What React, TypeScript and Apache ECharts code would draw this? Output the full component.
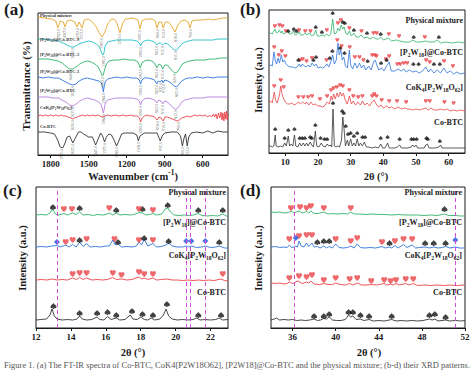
import React, { useEffect, useRef } from 'react';
import * as echarts from 'echarts';

const SERIF = '"Liberation Serif", "Times New Roman", serif';

// ---------------- (a) FT-IR ----------------
const IR_TICKS = [1800, 1500, 1200, 900, 600];
const IR_MIX = [[1900,3],[1850,2],[1790,1],[1760,-1],[1742,-8],[1725,-1],[1700,-2],[1687,-7],[1670,-1],[1640,0],[1610,-2],[1592,-7],[1575,-2],[1553,-8],[1535,0],[1500,1],[1470,-2],[1440,-7],[1415,-13],[1395,-17],[1375,-13],[1350,-4],[1320,1],[1300,1],[1280,-2],[1253,-13],[1235,-4],[1210,1],[1150,2],[1110,0],[1095,-9],[1080,-1],[1050,1],[1000,1],[975,-1],[960,-8],[945,-2],[925,-2],[912,-8],[895,-2],[870,-2],[845,-6],[818,-12],[795,-5],[770,-1],[740,0],[715,-2],[700,-8],[685,-1],[650,0],[600,0],[550,1],[520,0],[480,1],[440,2],[400,2]];
const IR_P9 = [[1900,1],[1860,1],[1820,0],[1780,0],[1740,-1],[1700,-3],[1670,-5],[1640,-7],[1615,-7],[1590,-5],[1560,-3],[1530,-2],[1500,-1],[1470,-2],[1440,-4],[1420,-6],[1405,-10],[1395,-14],[1385,-15],[1378,-12],[1370,-6],[1350,-2],[1320,-1],[1280,0],[1240,0],[1200,0],[1160,0],[1120,-1],[1100,-3],[1090,-6],[1080,-3],[1060,-1],[1030,0],[1000,-1],[980,-2],[962,-5],[948,-3],[932,-3],[915,-5],[898,-3],[875,-4],[850,-7],[825,-10],[805,-10],[785,-7],[765,-4],[740,-2],[710,-1],[680,0],[640,0],[600,0],[560,0],[520,0],[480,1],[440,1],[400,1]];
const IR_P5 = [[1900,1],[1860,1],[1820,1],[1780,0],[1740,-1],[1710,-3],[1680,-6],[1650,-9],[1625,-9],[1600,-7],[1570,-4],[1540,-2],[1510,-1],[1480,-2],[1450,-4],[1425,-7],[1405,-12],[1393,-16],[1385,-15],[1375,-10],[1360,-4],[1340,-1],[1300,0],[1260,0],[1220,1],[1180,0],[1140,0],[1110,-2],[1092,-8],[1080,-3],[1060,-1],[1030,0],[1000,-1],[980,-3],[962,-8],[945,-4],[930,-5],[915,-9],[900,-5],[880,-5],[860,-8],[840,-11],[820,-13],[800,-12],[780,-8],[760,-4],[730,-2],[700,-1],[660,0],[620,0],[580,0],[540,1],[500,1],[460,2],[420,2],[400,2]];
const IR_P1 = [[1900,1],[1860,0],[1820,1],[1780,0],[1740,0],[1710,-2],[1680,-4],[1650,-6],[1625,-7],[1600,-6],[1575,-3],[1545,-1],[1510,0],[1480,-1],[1450,-2],[1420,-3],[1400,-5],[1390,-9],[1384,-14],[1378,-9],[1370,-4],[1350,-1],[1320,0],[1280,1],[1240,0],[1200,1],[1160,0],[1120,0],[1100,-2],[1090,-6],[1080,-2],[1060,0],[1030,0],[1000,-1],[980,-2],[962,-6],[950,-3],[935,-4],[922,-2],[912,-5],[898,-2],[875,-3],[850,-5],[825,-8],[805,-9],[785,-6],[765,-3],[740,-1],[710,0],[680,0],[640,1],[600,0],[560,1],[520,0],[480,1],[440,1],[400,1]];
const IR_P0 = [[1900,1],[1860,1],[1820,1],[1780,0],[1740,0],[1710,-2],[1680,-4],[1650,-7],[1625,-8],[1600,-6],[1570,-3],[1540,-1],[1510,0],[1480,-1],[1450,-2],[1420,-4],[1400,-7],[1390,-12],[1384,-15],[1377,-11],[1368,-5],[1350,-2],[1320,-1],[1280,0],[1240,0],[1200,0],[1160,0],[1120,-1],[1100,-3],[1090,-7],[1078,-3],[1060,-1],[1030,0],[1000,-1],[980,-2],[962,-5],[948,-2],[930,-3],[915,-6],[900,-3],[880,-4],[860,-6],[840,-9],[820,-11],[805,-11],[785,-8],[765,-4],[740,-2],[710,-1],[680,0],[640,0],[600,0],[560,1],[520,1],[480,1],[440,1],[400,1]];
const IR_COK = [[1900,0],[1880,1],[1860,0],[1840,1],[1820,0],[1800,1],[1780,0],[1760,1],[1740,0],[1720,1],[1700,0],[1680,0],[1660,-1],[1640,-2],[1625,-3],[1610,-2],[1590,-1],[1570,0],[1550,1],[1530,0],[1510,1],[1490,0],[1470,1],[1450,0],[1430,1],[1410,0],[1390,-1],[1370,0],[1350,1],[1320,0],[1290,1],[1260,0],[1230,1],[1200,0],[1170,1],[1140,0],[1115,0],[1100,-2],[1090,-6],[1078,-2],[1060,0],[1040,1],[1020,0],[1000,0],[980,-1],[960,-4],[945,-1],[928,-2],[912,-5],[898,-1],[880,-1],[860,-2],[840,-3],[820,-4],[800,-5],[785,-4],[765,-2],[740,-1],[720,0],[700,-1],[680,0],[660,1],[640,0],[620,1],[600,0],[580,1],[560,-1],[545,1],[530,-1],[515,2],[505,-1],[495,2],[485,-3],[475,3],[465,-2],[455,4],[447,-4],[440,3],[432,-5],[425,4],[418,-3],[412,5],[406,-4],[400,2]];
const IR_BTC = [[1900,2],[1850,2],[1800,1],[1770,0],[1745,-6],[1725,-13],[1705,-14],[1690,-10],[1670,-3],[1650,-2],[1625,-9],[1605,-4],[1580,2],[1560,2],[1540,0],[1500,-3],[1470,-3],[1445,-11],[1425,-5],[1405,1],[1390,-2],[1375,-8],[1360,-3],[1340,0],[1320,-1],[1300,-6],[1280,-12],[1265,-8],[1240,0],[1220,1],[1180,1],[1150,1],[1120,-1],[1108,-7],[1095,-2],[1060,1],[1000,1],[960,1],[935,-7],[920,-2],[900,1],[850,2],[800,2],[775,-2],[760,-12],[745,-3],[735,0],[722,-12],[710,-3],[690,1],[650,2],[600,1],[560,3],[520,1],[480,3],[440,2],[400,2]];
// peak positions marked with rotated numbers under the dips
const PK_MIX = [[1742,-8],[1687,-7],[1592,-7],[1553,-8],[1395,-17],[1253,-13],[1095,-9],[960,-8],[912,-8],[818,-12],[700,-8]];
const PK_P9 = [[1630,-7],[1385,-15],[1090,-6],[962,-5],[915,-5],[815,-10]];
const PK_P5 = [[1640,-9],[1393,-16],[1092,-8],[962,-8],[915,-9],[820,-13]];
const PK_P1 = [[1625,-7],[1384,-14],[1090,-6],[962,-6],[935,-4],[912,-5],[805,-9]];
const PK_P0 = [[1625,-8],[1384,-15],[1090,-7],[962,-5],[915,-6],[812,-11]];
const PK_COK = [[1630,-3],[1090,-6],[958,-4],[910,-5],[790,-5]];
const PK_BTC = [[1715,-14],[1625,-9],[1445,-11],[1375,-8],[1280,-12],[1108,-7],[935,-7],[760,-12],[722,-12]];

// ---------------- (b) XRD 5-65 ----------------
const XB_TICKS = [10, 20, 30, 40, 50, 60];
const XB_MIX = [[5,4],[5.5,5],[6,4],[6.8,9],[7.3,5],[7.8,6],[8.2,8],[8.6,5],[9,7],[9.4,4],[10,5],[10.7,7],[11.2,4],[11.8,4],[12.5,7],[13,3],[13.7,4],[14.2,6],[14.7,3],[15.5,3],[16.1,5],[16.6,3],[17.5,5],[18,2],[18.7,3],[19.3,8],[19.8,2],[20.5,2],[21.3,3],[22,2],[22.7,4],[23.3,2],[23.9,4],[24.5,19],[25,4],[25.6,5],[26.1,10],[26.6,7],[27.1,13],[27.6,9],[28,11],[28.5,5],[29,3],[29.6,7],[30.2,2],[31,5],[31.7,1],[32.5,1],[33.2,3],[34,0],[35,1],[36,-1],[37,1],[37.6,-1],[38.5,-1],[39.2,1],[40,-2],[41.5,0],[42.5,-3],[44,-2],[45,-3],[46.5,-4],[48,-4],[49,-2],[50,-4],[51.5,-4],[53,-3],[54,-4],[55.5,-4],[56.5,-2],[57.5,-5],[59,-4],[61,-5],[63,-4],[65,-5]];
const XB_P2W = [[5,6],[5.5,7],[6,6],[6.5,20],[6.9,12],[7.3,8],[7.8,14],[8.2,9],[8.8,17],[9.2,10],[9.7,12],[10.2,8],[10.8,6],[11.5,5],[12.3,5],[13,4],[13.6,5],[14.2,8],[14.7,5],[15.2,8],[15.8,6],[16.4,5],[17,7],[17.6,5],[18.2,9],[18.8,6],[19.4,8],[20,4],[20.7,5],[21.4,4],[22,5],[22.7,8],[23.3,5],[23.9,10],[24.5,17],[25,8],[25.6,12],[26.1,29],[26.5,17],[27,22],[27.4,12],[27.9,15],[28.4,6],[29,4],[29.6,22],[30,7],[30.6,3],[31.3,9],[32,4],[32.7,9],[33.3,4],[34,7],[34.6,2],[35.5,6],[36.3,2],[37,10],[37.5,12],[38,7],[38.6,2],[39.5,4],[40.2,1],[41,6],[41.8,10],[42.4,1],[43.5,1],[44.5,3],[45.5,1],[46.3,3],[47,0],[48,2],[49,0],[50,1],[51,-1],[52,1],[53,5],[53.8,0],[54.5,3],[55.5,-1],[56.5,2],[57.5,-1],[58.5,4],[59.5,-1],[60.5,1],[61.5,-2],[62.5,0],[63.5,-2],[65,-1]];
const XB_COK = [[5,6],[5.5,7],[6,5],[6.6,16],[7,8],[7.5,5],[8.2,13],[8.6,22],[9,14],[9.4,10],[10,6],[10.6,4],[11.3,4],[12,5],[12.7,3],[13.3,4],[14,6],[14.6,4],[15.3,6],[16,4],[16.5,6],[17.2,3],[17.8,6],[18.5,3],[19.2,4],[20,2],[20.7,2],[21.4,1],[22,2],[22.8,6],[23.5,4],[24,12],[24.4,8],[24.8,14],[25.3,9],[25.8,15],[26.3,11],[26.8,16],[27.3,12],[27.8,15],[28.3,8],[29,4],[29.6,12],[30.2,4],[30.8,7],[31.5,3],[32.2,6],[33,3],[33.6,7],[34.3,3],[35,5],[35.8,2],[36.5,6],[37.2,8],[37.8,4],[38.5,1],[39.3,3],[40,0],[41,2],[41.8,0],[42.5,1],[43.5,-1],[44.5,1],[45.5,-1],[46.5,0],[47.3,-1],[48,-1],[49,-2],[50,-1],[51,-2],[52,-1],[53,0],[53.8,-2],[54.6,0],[55.5,-2],[56.5,-2],[57.5,-1],[58.5,-2],[59.5,-1],[60.5,-3],[61.5,-2],[62.5,-3],[63.5,-2],[65,-3]];
const XB_BTC = [[5,2],[5.5,2],[6,1],[6.5,2],[6.9,13],[7.2,2],[7.8,1],[8.5,2],[9.2,1],[9.8,5],[10.3,2],[10.9,12],[11.3,2],[11.8,4],[12.3,2],[12.8,13],[13.2,2],[13.8,1],[14.4,5],[14.9,2],[15.5,5],[16,2],[16.5,5],[17,2],[17.6,6],[18.1,3],[18.6,1],[19.2,17],[19.6,2],[20.3,1],[21,5],[21.5,2],[22.2,1],[22.8,4],[23.3,2],[23.8,3],[24.2,1],[24.6,39],[25,2],[25.5,1],[26,2],[26.6,1],[27.2,8],[27.6,31],[28,18],[28.4,2],[29,8],[29.4,2],[30,9],[30.5,2],[31,5],[31.5,2],[32,9],[32.5,2],[33,5],[33.6,2],[34.2,6],[34.8,1],[35.5,1],[36.5,0],[37.5,1],[38.5,0],[39.2,4],[39.8,0],[40.5,0],[41.3,5],[41.8,0],[42.5,0],[43.5,0],[44.3,1],[45,3],[45.5,0],[46.5,0],[47.5,0],[48.5,1],[49,3],[49.5,1],[50,3],[50.5,0],[51.5,0],[52.5,0],[53,3],[53.5,4],[54,0],[55,0],[56,0],[57,1],[57.5,3],[58,0],[59,0],[60,0],[61,0],[62,0],[63,0],[65,0]];
const MB_MIX_H = [[6.8,12],[8.2,13],[9.1,12],[10.2,7],[14.2,8],[16.1,7],[17.7,7],[22.7,8],[26.1,15],[27.0,18],[29.6,10],[33.3,7],[37.0,5],[38.0,5],[41.7,4],[44.8,2],[52.7,1]];
const MB_MIX_S = [[10.9,7],[12.6,9],[13.4,7],[19.3,11],[21.2,6],[24.5,25],[27.6,16],[28.2,15],[31.0,8],[35.0,5],[39.2,4],[49.3,1],[57.0,1]];
const MB_P2W_H = [[6.6,25],[8.0,17],[8.9,21],[10.0,16],[14.5,12],[15.3,13],[16.5,11],[18.2,14],[22.6,12],[25.9,32],[27.2,26],[29.7,25],[31.3,15],[32.7,15],[33.9,12],[36.6,17],[37.4,17],[37.9,16],[40.8,13],[41.8,16],[44.3,8],[45.2,8],[46.3,9],[47.3,9],[53.1,12],[54.2,10],[58.6,11],[61.3,6]];
const MB_P2W_S = [[14.0,12],[18.6,12],[19.4,15],[23.6,14],[24.4,21],[26.8,24],[28.1,19],[35.2,11],[39.3,9],[41.0,12],[49.2,8],[50.8,8],[55.5,8],[57.3,8]];
const MB_COK_H = [[6.6,22],[8.6,28],[9.5,21],[14.0,11],[15.5,11],[17.0,11],[18.2,12],[20.6,9],[22.8,12],[24.0,18],[24.8,20],[25.8,21],[26.8,23],[27.6,22],[29.6,18],[30.8,12],[32.3,11],[33.6,12],[36.6,12],[37.2,14],[37.9,12],[39.5,8],[41.8,7],[44.2,7],[47.0,6],[53.0,7],[54.2,7],[58.7,6],[61.5,5]];
const MB_BTC_S = [[6.9,19],[9.8,10],[10.9,18],[12.8,19],[14.4,10],[15.2,10],[16.0,10],[17.6,11],[18.1,10],[19.2,23],[20.8,10],[22.0,9],[22.8,9],[24.6,45],[27.4,37],[27.9,35],[28.5,22],[29.2,14],[30.0,15],[31.0,12],[32.0,15],[33.6,11],[34.4,11],[39.2,10],[41.3,11],[45.0,9],[48.6,9],[49.3,9],[50.2,9],[53.2,10],[53.6,9],[57.3,7]];

// ---------------- (c) XRD 12-23 ----------------
const XC_TICKS = [12, 14, 16, 18, 20, 22];
const XC_DASH = [13.22, 20.58, 20.86, 21.72];
const XC_MIX = [[12,0],[12.3,0.5],[12.6,0],[12.8,2],[12.95,6],[13.1,1],[13.3,0],[13.6,1.5],[13.8,0],[14.1,2],[14.3,0.5],[14.5,3],[14.7,0],[15,0.5],[15.3,-0.5],[15.5,0.5],[15.8,0],[16,0.5],[16.2,2],[16.4,0],[16.6,2],[16.8,0],[17.1,0.5],[17.4,0],[17.6,0.5],[17.9,2.5],[18.1,2],[18.3,0],[18.5,0.5],[18.7,1.5],[18.9,0],[19.2,1],[19.4,6],[19.55,7],[19.7,3],[19.9,0],[20.2,-0.5],[20.5,0],[20.8,-0.5],[21,0],[21.3,1.5],[21.5,-0.5],[21.8,-1],[22.1,-0.5],[22.4,-1],[22.7,1],[22.9,-1],[23,-1]];
const XC_P2W = [[12,0],[12.3,0.5],[12.6,0],[12.9,1],[13.2,1.5],[13.4,0],[13.7,2],[13.9,0],[14.1,2.5],[14.3,0],[14.5,5],[14.7,0.5],[14.9,3.5],[15.1,0],[15.4,0.5],[15.7,0],[16,1],[16.2,1],[16.4,7],[16.55,2],[16.7,3],[16.9,0],[17.2,0.5],[17.5,0],[17.75,1],[17.9,5],[18.05,2],[18.2,8],[18.4,1],[18.7,3.5],[18.9,0],[19.2,0.5],[19.45,2],[19.6,4],[19.8,1],[20.1,0],[20.4,0],[20.6,1],[20.75,0],[20.9,1],[21.2,-0.5],[21.5,0],[21.7,1],[22,-0.5],[22.3,0],[22.5,1],[22.8,-1],[23,-1]];
const XC_COK = [[12,0],[12.3,0.5],[12.6,0],[12.9,1],[13.2,0],[13.5,0.5],[13.8,0],[14.1,2],[14.3,0.5],[14.5,2.5],[14.7,0.5],[14.9,2],[15.2,0],[15.5,0.5],[15.8,0],[16.1,0.5],[16.4,2.5],[16.6,0.5],[16.9,1],[17.2,0],[17.5,0.5],[17.9,3],[18.05,1],[18.2,2],[18.4,0.5],[18.7,2],[18.9,0],[19.2,0.5],[19.5,1],[19.8,0],[20.1,0],[20.4,-0.5],[20.7,0],[21,-0.5],[21.3,0],[21.6,-0.5],[21.9,0],[22.2,-0.5],[22.6,1],[22.8,-0.5],[23,-1]];
const XC_BTC = [[12,0],[12.3,0.5],[12.6,1],[12.8,5],[12.92,11],[13.05,4],[13.2,1],[13.5,0],[13.8,0.5],[14.1,0],[14.35,1],[14.5,4],[14.65,1],[14.9,0],[15.2,0.5],[15.5,3],[15.65,0.5],[15.9,0],[16.1,3.5],[16.3,0.5],[16.6,2],[16.8,0],[17.1,0.5],[17.4,5],[17.55,1],[17.8,0.5],[18,3],[18.2,0.5],[18.4,0],[18.6,2],[18.8,0],[19.1,1],[19.3,5],[19.45,11],[19.6,4],[19.8,1],[20.1,0],[20.4,0.5],[20.7,0],[21,0.5],[21.2,2],[21.4,0],[21.7,0.5],[22,0],[22.3,0.5],[22.5,2],[22.7,0],[23,0.5]];
const MC_MIX_S = [[12.97,8],[14.5,7],[16.6,5],[18.1,6],[19.55,10],[21.3,5],[22.7,5]];
const MC_MIX_H = [[13.6,6],[14.06,6],[16.2,7],[17.9,6],[18.7,5]];
const MC_P2W_D = [[13.2,5],[20.6,6],[20.9,6],[21.7,6]];
const MC_P2W_H = [[13.7,5],[14.1,7],[14.9,8],[16.5,8],[17.9,7],[18.7,7]];
const MC_P2W_S = [[14.5,7],[16.7,5],[18.2,9],[19.6,6],[22.5,5]];
const MC_COK_H = [[14.1,6],[14.5,7],[14.9,7],[16.4,7],[16.9,5],[17.9,8],[18.2,6],[18.7,6],[22.7,6]];
const MC_BTC_S = [[13.0,14],[14.5,7],[15.5,7],[16.1,8],[16.6,5],[17.5,9],[18.1,6],[18.7,5],[19.5,16],[21.3,5],[22.6,5]];

// ---------------- (d) XRD 34-52 ----------------
const XD_TICKS = [36, 40, 44, 48, 52];
const XD_DASH = [36.2, 51.1];
const XD_MIX = [[34,2],[34.4,1.5],[34.8,2],[35.2,1],[35.6,1.5],[35.85,3],[36.1,1],[36.6,3],[36.9,1],[37.3,2.5],[37.5,1],[37.7,3],[38,0.5],[38.4,0.5],[38.9,2],[39.3,0],[39.7,0.5],[40.2,0],[40.7,0.5],[41.1,0],[41.4,2],[41.7,0],[42.2,0],[42.8,-0.5],[43.4,0],[44,-0.5],[44.6,-0.5],[45.2,-1],[45.8,-0.5],[46.4,-1],[47,-1],[47.6,-1],[48.2,-1.5],[48.8,-1],[49.4,-1.5],[50.1,0],[50.5,-1.5],[51.1,-1.5],[51.6,-2],[52,-2]];
const XD_P2W = [[34,1],[34.4,1.5],[34.8,0.5],[35.2,1],[35.5,0.5],[35.7,3],[35.9,0.5],[36.15,1],[36.3,2],[36.45,1],[36.6,7],[36.8,2],[37.05,1],[37.3,5],[37.5,1.5],[37.8,5],[38,1],[38.3,1.5],[38.55,0],[38.9,2],[39.15,0],[39.4,1.5],[39.7,0],[40,4],[40.3,0.5],[40.7,0],[41.1,0.5],[41.4,2],[41.7,0],[42,4],[42.3,0.5],[42.7,0],[43.2,0.5],[43.7,0],[44.3,1.5],[44.6,0],[45,1],[45.2,0],[45.5,2.5],[45.8,0],[46.3,3.5],[46.6,0.5],[47.1,3],[47.4,0],[47.8,0.5],[48.3,1],[48.7,0],[49.1,1],[49.5,0],[49.9,0.5],[50.2,1.5],[50.6,0],[51.1,1],[51.5,0],[52,0]];
const XD_COK = [[34,2],[34.4,1.5],[34.8,2],[35.2,1],[35.5,1.5],[35.7,3],[36,1.5],[36.5,4],[36.9,1.5],[37.3,3],[37.5,2],[37.7,4],[38,1],[38.5,0.5],[38.9,1.5],[39.3,0.5],[39.7,0.5],[40,2],[40.4,0.5],[40.9,0],[41.3,1.5],[41.6,0],[42,2],[42.4,0],[42.9,0],[43.3,0.5],[43.8,0],[44.5,1.5],[44.8,0],[45.1,1],[45.35,0],[45.6,1.5],[45.9,0],[46.5,1.5],[46.8,0],[47.2,1.5],[47.6,-0.5],[48.2,0],[48.8,-0.5],[49.4,0],[50,-0.5],[50.6,0],[51.2,-0.5],[52,0]];
const XD_BTC = [[34,1],[34.3,2],[34.5,3],[34.8,1],[35.2,1.5],[35.6,1],[36,1.5],[36.4,0.5],[36.8,1],[37.2,0.5],[37.6,1],[38,2],[38.3,0.5],[38.6,1],[38.9,2.5],[39.15,2],[39.4,4],[39.7,1],[40.1,0.5],[40.5,0.5],[40.9,1.5],[41.2,6],[41.4,4],[41.6,5],[41.9,1.5],[42.3,2],[42.6,0.5],[43.1,1.5],[43.5,0],[44,0.5],[44.5,0],[45.2,1.5],[45.6,0],[46.1,0.5],[46.6,0],[47.1,0.5],[47.6,0],[48.1,0.5],[48.7,2],[48.95,1],[49.2,2],[49.5,0],[50.2,1],[50.6,0],[51.1,0.5],[51.6,0],[52,0.5]];
const MD_MIX_H = [[35.85,6],[36.7,7],[37.3,6],[37.7,8],[38.9,6],[41.4,6]];
const MD_MIX_S = [[50.1,5]];
const MD_P2W_H = [[35.7,9],[36.6,12],[37.3,13],[37.8,13],[40.0,9],[41.4,7],[42.0,10],[44.3,6],[45.5,7],[46.3,9],[47.1,9]];
const MD_P2W_D = [[36.3,10],[51.1,8]];
const MD_P2W_S = [[38.3,6],[38.9,7],[39.4,7],[45.0,5],[48.3,5],[49.1,5],[50.2,5]];
const MD_COK_H = [[35.7,7],[36.6,9],[37.3,8],[37.8,10],[38.9,5],[40.0,7],[41.3,6],[42.0,7],[43.3,4],[44.5,5],[45.1,4],[45.6,5],[46.5,6],[47.2,6]];
const MD_BTC_S = [[38.0,5],[38.9,5],[39.4,7],[41.2,9],[41.6,9],[42.3,6],[43.1,5],[45.2,5],[48.7,6],[49.2,7],[50.2,4]];

// ---------------- styling ----------------
const C_YEL = '#e6a729', C_CYAN = '#22bfc4', C_GRN = '#2fb26c', C_BLUE = '#2c74dc', C_PUR = '#b47fdc', C_RED = '#ea4347', C_BLK = '#333333';
const SPADE = 'path://M50 0C40 20 0 40 0 62C0 78 12 88 25 88C35 88 42 83 46 76C44 88 38 96 28 100L72 100C62 96 56 88 54 76C58 83 65 88 75 88C88 88 100 78 100 62C100 40 60 20 50 0Z';
const HEART = 'path://M50 100C35 85 0 60 0 30C0 12 12 0 27 0C38 0 46 7 50 16C54 7 62 0 73 0C88 0 100 12 100 30C100 60 65 85 50 100Z';

const GRIDS = [
  { left: 38, top: 13, width: 190, height: 142 },
  { left: 269, top: 10, width: 196, height: 143 },
  { left: 36, top: 187, width: 192, height: 141 },
  { left: 271, top: 187, width: 194, height: 141 },
];

function App() {
  const ref = useRef<HTMLDivElement>(null);
  useEffect(() => {
    const chart = echarts.init(ref.current!, null, { renderer: 'svg' });

    const xa = (gi: number, min: number, max: number, ticks: number[], inverse = false) => ({
      type: 'value', gridIndex: gi, min, max, inverse,
      axisLine: { show: true, lineStyle: { color: '#1a1a1a', width: 1 } },
      axisTick: { show: true, length: 3, customValues: ticks, lineStyle: { color: '#1a1a1a' } },
      axisLabel: { customValues: ticks, fontFamily: SERIF, fontWeight: 'bold', fontSize: 9, color: '#1a1a1a', margin: 4, formatter: (v: number) => String(v) },
      splitLine: { show: false },
    });
    const ya = (gi: number) => ({ type: 'value', gridIndex: gi, min: 0, max: GRIDS[gi].height, show: false });

    const line = (gi: number, pts: number[][], off: number, color: string, w = 0.9, extra: any = {}) => ({
      type: 'line', xAxisIndex: gi, yAxisIndex: gi, silent: true, symbol: 'none', z: 2,
      data: pts.map((p) => [p[0], p[1] + off]),
      lineStyle: { color, width: w }, ...extra,
    });
    const marks = (gi: number, pts: number[][], off: number, symbol: string, color: string, size: number) => ({
      type: 'scatter', xAxisIndex: gi, yAxisIndex: gi, silent: true, z: 3,
      data: pts.map((p) => [p[0], p[1] + off]), symbol, symbolSize: size, itemStyle: { color },
    });
    const peakLabels = (pts: number[][], off: number) => ({
      type: 'scatter', xAxisIndex: 0, yAxisIndex: 0, silent: true, z: 3, symbolSize: 0,
      data: pts.map((p) => [p[0], p[1] + off]),
      label: {
        show: true, position: 'bottom', distance: 1, rotate: 90, align: 'right', verticalAlign: 'middle',
        fontSize: 4, color: '#333', fontFamily: SERIF,
        formatter: (p: any) => p.value[0].toFixed(1),
      },
    });
    const dash = (vals: number[]) => ({
      silent: true, symbol: 'none', label: { show: false },
      lineStyle: { color: '#d24bd6', type: [4, 3], width: 1 },
      data: vals.map((v) => ({ xAxis: v })),
    });

    const IR_OFF = [135, 115, 95, 77, 57, 39, 21];
    const B_OFF = [115, 81, 45, 5];
    const C_OFF = [113, 81, 48, 8];
    const D_OFF = [114, 80, 43, 7];

    const series: any[] = [
      line(0, IR_MIX, IR_OFF[0], C_YEL), line(0, IR_P9, IR_OFF[1], C_CYAN), line(0, IR_P5, IR_OFF[2], C_GRN),
      line(0, IR_P1, IR_OFF[3], C_BLUE), line(0, IR_P0, IR_OFF[4], C_PUR), line(0, IR_COK, IR_OFF[5], C_RED),
      line(0, IR_BTC, IR_OFF[6], C_BLK),
      peakLabels(PK_MIX, IR_OFF[0]), peakLabels(PK_P9, IR_OFF[1]), peakLabels(PK_P5, IR_OFF[2]),
      peakLabels(PK_P1, IR_OFF[3]), peakLabels(PK_P0, IR_OFF[4]), peakLabels(PK_COK, IR_OFF[5]), peakLabels(PK_BTC, IR_OFF[6]),

      line(1, XB_MIX, B_OFF[0], C_GRN, 0.8), line(1, XB_P2W, B_OFF[1], C_BLUE, 0.8),
      line(1, XB_COK, B_OFF[2], C_RED, 0.8), line(1, XB_BTC, B_OFF[3], C_BLK, 0.8),
      marks(1, MB_MIX_H, B_OFF[0], HEART, C_RED, 4), marks(1, MB_MIX_S, B_OFF[0], SPADE, '#111', 4),
      marks(1, MB_P2W_H, B_OFF[1], HEART, C_RED, 4), marks(1, MB_P2W_S, B_OFF[1], SPADE, '#111', 4),
      marks(1, MB_COK_H, B_OFF[2], HEART, C_RED, 4), marks(1, MB_BTC_S, B_OFF[3], SPADE, '#111', 4),

      line(2, XC_MIX, C_OFF[0], C_GRN, 0.9), line(2, XC_P2W, C_OFF[1], C_BLUE, 0.9),
      line(2, XC_COK, C_OFF[2], C_RED, 0.9), line(2, XC_BTC, C_OFF[3], C_BLK, 0.9, { markLine: dash(XC_DASH) }),
      marks(2, MC_MIX_S, C_OFF[0], SPADE, '#111', 6), marks(2, MC_MIX_H, C_OFF[0], HEART, C_RED, 6),
      marks(2, MC_P2W_D, C_OFF[1], 'diamond', '#1f4fe0', 6), marks(2, MC_P2W_H, C_OFF[1], HEART, C_RED, 6),
      marks(2, MC_P2W_S, C_OFF[1], SPADE, '#111', 6), marks(2, MC_COK_H, C_OFF[2], HEART, C_RED, 6),
      marks(2, MC_BTC_S, C_OFF[3], SPADE, '#111', 6),

      line(3, XD_MIX, D_OFF[0], C_GRN, 0.9), line(3, XD_P2W, D_OFF[1], C_BLUE, 0.9),
      line(3, XD_COK, D_OFF[2], C_RED, 0.9), line(3, XD_BTC, D_OFF[3], C_BLK, 0.9, { markLine: dash(XD_DASH) }),
      marks(3, MD_MIX_H, D_OFF[0], HEART, C_RED, 6), marks(3, MD_MIX_S, D_OFF[0], SPADE, '#111', 6),
      marks(3, MD_P2W_H, D_OFF[1], HEART, C_RED, 6), marks(3, MD_P2W_D, D_OFF[1], 'diamond', '#1f4fe0', 6),
      marks(3, MD_P2W_S, D_OFF[1], SPADE, '#111', 6), marks(3, MD_COK_H, D_OFF[2], HEART, C_RED, 6),
      marks(3, MD_BTC_S, D_OFF[3], SPADE, '#111', 6),
    ];

    const rich = (size: number, color = '#1a1a1a', weight = 'bold') => ({
      t: { fontSize: size, fontFamily: SERIF, fontWeight: weight, fill: color, lineHeight: size + 3 },
      s: { fontSize: Math.round(size * 0.7 * 10) / 10, fontFamily: SERIF, fontWeight: weight, fill: color, verticalAlign: 'bottom', lineHeight: size * 0.55 },
      p: { fontSize: Math.round(size * 0.7 * 10) / 10, fontFamily: SERIF, fontWeight: weight, fill: color, verticalAlign: 'top', lineHeight: size * 0.55 },
    });
    const P2W_TXT = '{t|[P}{s|2}{t|W}{s|18}{t|]@Co-BTC}';
    const COK_TXT = '{t|CoK}{s|4}{t|[P}{s|2}{t|W}{s|18}{t|O}{s|62}{t|]}';
    const txt = (x: number, y: number, text: string, size: number, align = 'center', extra: any = {}) => ({
      type: 'text', x, y, silent: true, z: 10, ...extra,
      style: { text, rich: rich(size, extra.color || '#1a1a1a', extra.weight || 'bold'), align, verticalAlign: 'middle', textAlign: align, textVerticalAlign: 'middle' },
    });
    const IR_LABELS = ['{t|Physical mixture}', '{t|[P}{s|2}{t|W}{s|18}{t|]@Co-BTC-9}', '{t|[P}{s|2}{t|W}{s|18}{t|]@Co-BTC-5}',
      '{t|[P}{s|2}{t|W}{s|18}{t|]@Co-BTC-1}', '{t|[P}{s|2}{t|W}{s|18}{t|]@Co-BTC}', COK_TXT, '{t|Co-BTC}'];
    const IR_LY = [15, 39, 54, 71, 90, 107, 126];

    const graphic: any[] = [
      txt(4, 9, '{t|(a)}', 17, 'left'), txt(240, 9, '{t|(b)}', 17, 'left'),
      txt(3, 190, '{t|(c)}', 17, 'left'), txt(240, 190, '{t|(d)}', 17, 'left'),
      txt(26, 86, '{t|Transmittance (%)}', 11, 'center', { rotation: Math.PI / 2 }),
      txt(133, 176, '{t|Wavenumber (cm}{p|-1}{t|)}', 10.5),
      txt(258, 80, '{t|Intensity (a.u.)}', 10.5, 'center', { rotation: Math.PI / 2 }),
      txt(376, 176, '{t|2θ (°)}', 10.5),
      txt(22, 258, '{t|Intensity (a.u.)}', 10.5, 'center', { rotation: Math.PI / 2 }),
      txt(133, 352, '{t|2θ (°)}', 10.5),
      txt(258, 258, '{t|Intensity (a.u.)}', 10.5, 'center', { rotation: Math.PI / 2 }),
      txt(369, 352, '{t|2θ (°)}', 10.5),
      ...IR_LABELS.map((l, i) => txt(40, IR_LY[i], l, 4.5, 'left', { color: '#333' })),
      txt(463, 20, '{t|Physical mixture}', 8, 'right'), txt(463, 52, P2W_TXT, 8, 'right'),
      txt(463, 87, COK_TXT, 8, 'right'), txt(463, 122, '{t|Co-BTC}', 8, 'right'),
      txt(226, 192, '{t|Physical mixture}', 8, 'right'), txt(226, 222, P2W_TXT, 8, 'right'),
      txt(226, 255, COK_TXT, 8, 'right'), txt(226, 292, '{t|Co-BTC}', 8, 'right'),
      txt(462, 192, '{t|Physical mixture}', 8, 'right'), txt(462, 222, P2W_TXT, 8, 'right'),
      txt(462, 255, COK_TXT, 8, 'right'), txt(462, 292, '{t|Co-BTC}', 8, 'right'),
      txt(4, 365, '{t|Figure 1. (a) The FT-IR spectra of Co-BTC, CoK4[P2W18O62], [P2W18]@Co-BTC and the physical mixture; (b-d) their XRD patterns.}', 8.5, 'left', { color: '#555', weight: 'normal' }),
    ];

    chart.setOption({
      animation: false,
      backgroundColor: '#ffffff',
      grid: GRIDS.map((g) => ({ ...g, show: true, borderColor: '#1a1a1a', borderWidth: 1, backgroundColor: 'transparent', containLabel: false })),
      xAxis: [xa(0, 400, 1900, IR_TICKS, true), xa(1, 5, 65, XB_TICKS), xa(2, 12, 23, XC_TICKS), xa(3, 34, 52, XD_TICKS)],
      yAxis: [ya(0), ya(1), ya(2), ya(3)],
      series,
      graphic,
    });
    return () => chart.dispose();
  }, []);
  return <div ref={ref} style={{ position: 'fixed', left: 0, top: 0, width: 474, height: 370, background: '#fff' }} />;
}

export default App;
